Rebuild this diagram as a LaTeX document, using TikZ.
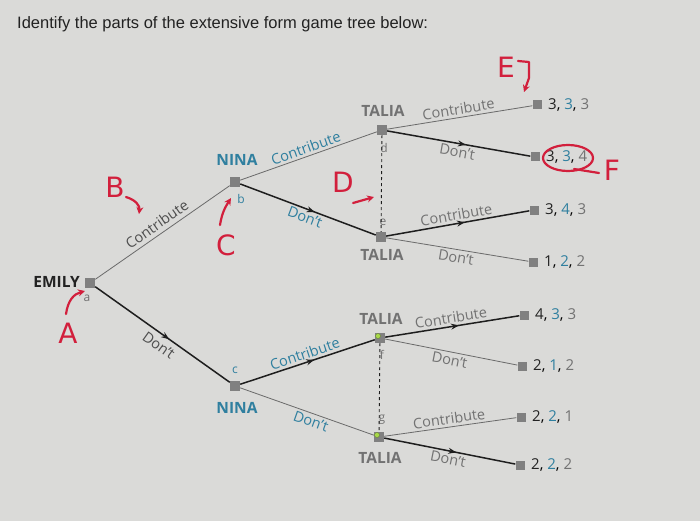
\documentclass[tikz,border=0pt]{standalone}
\usepackage{fontspec}
\setmainfont{Open Sans}
\newfontfamily\titlefont{Liberation Sans}
\newfontfamily\markerfont{DejaVu Sans}
\usetikzlibrary{arrows.meta, positioning, decorations.markings}
\definecolor{board}{HTML}{DADAD8}
\definecolor{ink}{HTML}{222222}
\definecolor{ninablue}{HTML}{2F7F9F}
\definecolor{taliagray}{HTML}{727272}
\definecolor{weak}{HTML}{6A6A6A}
\definecolor{strong}{HTML}{1E1E1E}
\definecolor{marker}{HTML}{808080}
\definecolor{pickgreen}{HTML}{A8D84A}
\definecolor{pen}{HTML}{D21F3C}

\begin{document}
\begin{tikzpicture}[
    x=1pt, y=-1pt,
    every node/.style={font=\fontsize{14.5}{16}\selectfont},
    decision/.style={
        rectangle,
        fill=marker,
        minimum size=10pt,
        inner sep=0pt
    },
    terminal/.style={
        rectangle,
        fill=marker,
        minimum size=9pt,
        inner sep=0pt
    },
    seldot/.style={circle, fill=pickgreen, draw=pickgreen!60!black, line width=0.3pt, minimum size=5pt, inner sep=0pt},
    player/.style={font=\fontsize{15.5}{17}\selectfont\bfseries, inner sep=2pt},
    tag/.style={font=\fontsize{12}{14}\selectfont, inner sep=1pt},
    elabel/.style={sloped, inner sep=2.5pt},
    payoff/.style={anchor=west, font=\fontsize{15}{17}\selectfont, inner sep=0pt},
    chosen/.style={
        line width=1.5pt,
        draw=strong,
        postaction={decorate},
        decoration={markings, mark=at position 0.55 with {\arrow{Stealth[length=8pt, width=6pt]}}}
    },
    other/.style={line width=0.8pt, draw=weak},
    infoset/.style={dashed, line width=0.9pt, draw=strong},
    pentext/.style={font=\markerfont\fontsize{28}{28}\selectfont, text=pen, inner sep=0pt},
    penline/.style={draw=pen, line width=2.2pt, line cap=round, line join=round},
    penarrow/.style={penline, -{Stealth[length=7pt, width=7pt]}}
]

% Board
\fill[board] (0,0) rectangle (700,521);
\useasboundingbox (0,0) rectangle (700,521);

% Question
\node[anchor=west, inner sep=0pt, font=\titlefont\fontsize{16.5}{18}\selectfont, text=ink] (question) at (17,24) {Identify the parts of the extensive form game tree below:};

% Decision nodes
\node[decision] (emily) at (90,283) {};
\node[decision] (ninab) at (235,182) {};
\node[decision] (ninac) at (235,386) {};
\node[decision] (taliad) at (382,130) {};
\node[decision] (taliae) at (381,237) {};
\node[decision] (taliaf) at (380,338) {};
\node[decision] (taliag) at (379,437) {};

% Terminal nodes
\node[terminal] (t1) at (537,105) {};
\node[terminal] (t2) at (535,157) {};
\node[terminal] (t3) at (534,210) {};
\node[terminal] (t4) at (533,262) {};
\node[terminal] (t5) at (524,315) {};
\node[terminal] (t6) at (522,366) {};
\node[terminal] (t7) at (521,417) {};
\node[terminal] (t8) at (520,465) {};

% Player names
\node[player, text=ink, anchor=east] (emilyname) at (82,282) {EMILY};
\node[player, text=ninablue] (ninabname) at (237,160) {NINA};
\node[player, text=ninablue] (ninacname) at (237,408) {NINA};
\node[player, text=taliagray] (taliadname) at (383,111) {TALIA};
\node[player, text=taliagray] (taliaename) at (382,255) {TALIA};
\node[player, text=taliagray] (taliafname) at (381,319) {TALIA};
\node[player, text=taliagray] (taliagname) at (380,458) {TALIA};

% Node letters
\node[tag, text=taliagray] (taga) at (87,298) {a};
\node[tag, text=ninablue] (tagb) at (241,199) {b};
\node[tag, text=ninablue] (tagc) at (235,370) {c};
\node[tag, text=taliagray] (tagd) at (384,148) {d};
\node[tag, text=taliagray] (tage) at (383,222) {e};
\node[tag, text=taliagray] (tagf) at (382,355) {f};
\node[tag, text=taliagray] (tagg) at (382,420) {g};

% Information sets
\draw[infoset] (taliad) -- (taliae);
\draw[infoset] (taliaf) -- (taliag);

% Emily moves
\draw[other] (emily) -- node[elabel, above, pos=0.5, inner sep=4pt, text=ink!80] {Contribute} (ninab);
\draw[chosen] (emily) -- node[elabel, below, pos=0.52, inner sep=5pt, text=ink!80] {Don’t} (ninac);

% Nina moves
\draw[other] (ninab) -- node[elabel, above, pos=0.5, text=ninablue] {Contribute} (taliad);
\draw[chosen] (ninab) -- node[elabel, below, pos=0.5, text=ninablue] {Don’t} (taliae);
\draw[chosen] (ninac) -- node[elabel, above, pos=0.5, text=ninablue] {Contribute} (taliaf);
\draw[other] (ninac) -- node[elabel, below, pos=0.55, text=ninablue] {Don’t} (taliag);

% Talia moves
\draw[other] (taliad) -- node[elabel, above, pos=0.5, text=taliagray] {Contribute} (t1);
\draw[chosen] (taliad) -- node[elabel, below, pos=0.5, text=taliagray] {Don’t} (t2);
\draw[chosen] (taliae) -- node[elabel, above, pos=0.5, text=taliagray] {Contribute} (t3);
\draw[other] (taliae) -- node[elabel, below, pos=0.5, text=taliagray] {Don’t} (t4);
\draw[chosen] (taliaf) -- node[elabel, above, pos=0.5, text=taliagray] {Contribute} (t5);
\draw[other] (taliaf) -- node[elabel, below, pos=0.5, text=taliagray] {Don’t} (t6);
\draw[other] (taliag) -- node[elabel, above, pos=0.5, text=taliagray] {Contribute} (t7);
\draw[chosen] (taliag) -- node[elabel, below, pos=0.5, text=taliagray] {Don’t} (t8);

% Selected nodes
\node[seldot] (dotf) at ([shift={(-2,-2)}]taliaf.center) {};
\node[seldot] (dotg) at ([shift={(-2,-2)}]taliag.center) {};

% Payoffs
\node[payoff] (p1) at ([xshift=11pt]t1.center) {{\color{ink}3}, {\color{ninablue}3}, {\color{taliagray}3}};
\node[payoff] (p2) at ([xshift=11pt]t2.center) {{\color{ink}3}, {\color{ninablue}3}, {\color{taliagray}4}};
\node[payoff] (p3) at ([xshift=11pt]t3.center) {{\color{ink}3}, {\color{ninablue}4}, {\color{taliagray}3}};
\node[payoff] (p4) at ([xshift=11pt]t4.center) {{\color{ink}1}, {\color{ninablue}2}, {\color{taliagray}2}};
\node[payoff] (p5) at ([xshift=11pt]t5.center) {{\color{ink}4}, {\color{ninablue}3}, {\color{taliagray}3}};
\node[payoff] (p6) at ([xshift=11pt]t6.center) {{\color{ink}2}, {\color{ninablue}1}, {\color{taliagray}2}};
\node[payoff] (p7) at ([xshift=11pt]t7.center) {{\color{ink}2}, {\color{ninablue}2}, {\color{taliagray}1}};
\node[payoff] (p8) at ([xshift=11pt]t8.center) {{\color{ink}2}, {\color{ninablue}2}, {\color{taliagray}2}};

% Pen marks
\node[pentext] (markA) at (68,333) {A};
\draw[penarrow] (66,314) .. controls (68,300) and (74,294) .. (85,291);
\node[pentext] (markB) at (115,187) {B};
\draw[penarrow] (126,197) .. controls (136,200) and (140,206) .. (139,214);
\node[pentext] (markC) at (226,245) {C};
\draw[penarrow] (220,225) .. controls (222,212) and (226,206) .. (231,198);
\node[pentext] (markD) at (343,182) {D};
\draw[penarrow] (353,203) -- (374,197);
\node[pentext] (markE) at (506,67) {E};
\draw[penarrow] (518,61) -- (529,62) -- (529,78) -- (524,92);
\draw[penline] (568,158) ellipse (25 and 13);
\draw[penline] (574,169) -- (599,173);
\node[pentext] (markF) at (612,170) {F};

\end{tikzpicture}
\end{document}
